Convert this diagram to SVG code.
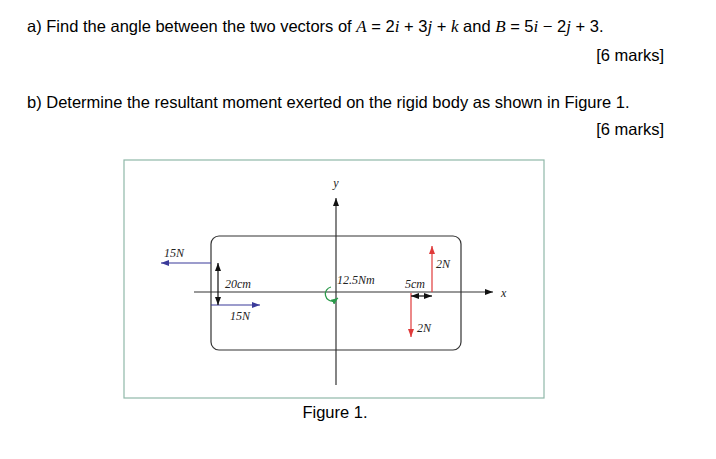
<svg xmlns="http://www.w3.org/2000/svg" width="716" height="459" viewBox="0 0 716 459">
<style>
.t{font-family:"Liberation Sans",Arial,sans-serif;font-size:16.5px;fill:#000}
.m{font-family:"Liberation Serif","Times New Roman",serif;font-size:17px;font-style:italic}
.d{font-family:"Liberation Serif","Times New Roman",serif;font-size:12px;font-style:italic;fill:#222}
.ln{fill:none;stroke-width:1.2}
</style>
<defs>
<marker id="ak" markerWidth="8" markerHeight="6" refX="8" refY="3" orient="auto-start-reverse" markerUnits="userSpaceOnUse"><path d="M0,0L8,3L0,6z" fill="#111"/></marker>
<marker id="ab" markerWidth="8" markerHeight="6" refX="8" refY="3" orient="auto" markerUnits="userSpaceOnUse"><path d="M0,0L8,3L0,6z" fill="#3a3a9a"/></marker>
<marker id="ar" markerWidth="8" markerHeight="6" refX="8" refY="3" orient="auto" markerUnits="userSpaceOnUse"><path d="M0,0L8,3L0,6z" fill="#e03a3a"/></marker>
<marker id="ag" markerWidth="7" markerHeight="6" refX="7" refY="3" orient="auto" markerUnits="userSpaceOnUse"><path d="M0,0L7,3L0,6z" fill="#2a9a4a"/></marker>
</defs>
<g id="text">
<text class="t" x="27" y="32">a)  Find the angle between the two vectors of <tspan class="m">A</tspan> = 2<tspan class="m">i</tspan> + 3<tspan class="m">j</tspan> + <tspan class="m">k</tspan> and <tspan class="m">B</tspan> = 5<tspan class="m">i</tspan> − 2<tspan class="m">j</tspan> + 3.</text>
<text class="t" x="664" y="61" text-anchor="end">[6 marks]</text>
<text class="t" x="27" y="108">b)  Determine the resultant moment exerted on the rigid body as shown in Figure 1.</text>
<text class="t" x="664" y="135" text-anchor="end">[6 marks]</text>
<text class="t" x="335" y="418" text-anchor="middle">Figure 1.</text>
</g>
<g id="frame"><rect x="124" y="160" width="420" height="238" fill="none" stroke="#8fb8a8" stroke-width="1.2"/></g>
<g id="body"><rect x="211" y="236" width="250" height="114" rx="8" fill="none" stroke="#333" stroke-width="1.2"/></g>
<g id="connectors">
<line class="ln" x1="336" y1="385" x2="336" y2="198" stroke="#333" marker-end="url(#ak)"/>
<line class="ln" x1="194" y1="292" x2="493" y2="292" stroke="#333" marker-end="url(#ak)"/>
<line class="ln" x1="211" y1="263" x2="161" y2="263" stroke="#3a3a9a" marker-end="url(#ab)"/>
<line class="ln" x1="211" y1="305" x2="260" y2="305" stroke="#3a3a9a" marker-end="url(#ab)"/>
<line class="ln" x1="218" y1="263" x2="218" y2="305" stroke="#111" marker-start="url(#ak)" marker-end="url(#ak)"/>
<line class="ln" x1="432" y1="292" x2="432" y2="246" stroke="#e03a3a" marker-end="url(#ar)"/>
<line class="ln" x1="411" y1="293" x2="411" y2="337" stroke="#e03a3a" marker-end="url(#ar)"/>
<line class="ln" x1="411" y1="296" x2="432" y2="296" stroke="#111" marker-start="url(#ak)" marker-end="url(#ak)"/>
<path class="ln" d="M331,287 A6,6 0 0 0 334,301 L338,298" stroke="#2a9a4a" marker-end="url(#ag)"/>
</g>
<g id="labels">
<text class="d" x="336" y="187" text-anchor="middle">y</text>
<text class="d" x="501" y="297">x</text>
<text class="d" x="164" y="257">15N</text>
<text class="d" x="225" y="288">20cm</text>
<text class="d" x="230" y="320">15N</text>
<text class="d" x="337" y="284">12.5Nm</text>
<text class="d" x="405" y="288">5cm</text>
<text class="d" x="436" y="268">2N</text>
<text class="d" x="417" y="332">2N</text>
</g>
</svg>
